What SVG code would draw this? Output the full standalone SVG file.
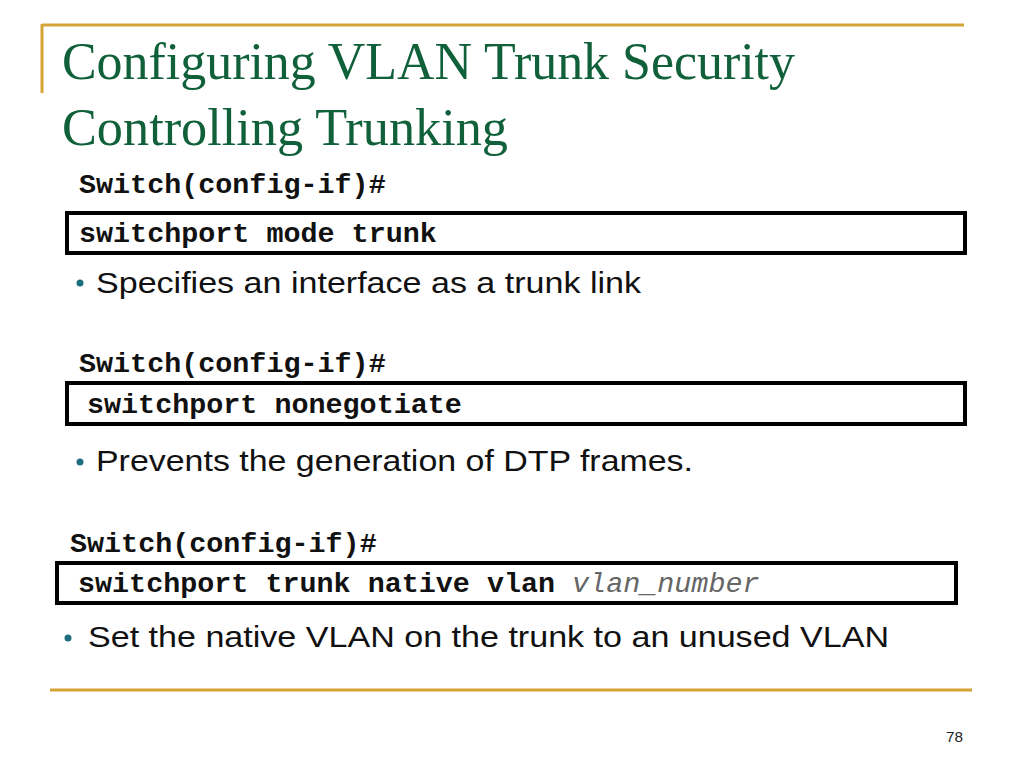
<svg xmlns="http://www.w3.org/2000/svg" width="1024" height="768" viewBox="0 0 1024 768">
<style>
.gold{stroke:#D4A536;stroke-width:3;fill:none}
.title{font-family:"Liberation Serif",serif;font-size:53px;fill:#10603A}
.prompt{font-family:"Liberation Mono",monospace;font-weight:bold;font-size:28.4px;fill:#111}
.cmd{font-family:"Liberation Mono",monospace;font-weight:bold;font-size:28.4px;fill:#111}
.arg{font-family:"Liberation Mono",monospace;font-style:italic;font-weight:normal;fill:#666}
.box{fill:#fff;stroke:#000;stroke-width:4}
.bul{font-family:"Liberation Sans",sans-serif;font-size:29px;fill:#111}
.dot{fill:#1F6E80}
</style>
<rect width="1024" height="768" fill="#fff"/>
<g id="frame">
<line class="gold" x1="42" y1="25" x2="964" y2="25"/>
<line class="gold" x1="42" y1="24" x2="42" y2="93"/>
<line class="gold" x1="50" y1="690" x2="972" y2="690"/>
</g>
<g id="title">
<text class="title" x="62" y="79" textLength="733" lengthAdjust="spacingAndGlyphs">Configuring VLAN Trunk Security</text>
<text class="title" x="62" y="145" textLength="446" lengthAdjust="spacingAndGlyphs">Controlling Trunking</text>
</g>
<g id="cmd1">
<text class="prompt" x="79" y="193">Switch(config-if)#</text>
<rect class="box" x="67" y="213" width="898" height="40"/>
<text class="cmd" x="79" y="242">switchport mode trunk</text>
</g>
<g id="bullet1">
<circle class="dot" cx="80" cy="283" r="3.5"/>
<text class="bul" x="96" y="293" textLength="545" lengthAdjust="spacingAndGlyphs">Specifies an interface as a trunk link</text>
</g>
<g id="cmd2">
<text class="prompt" x="79" y="372">Switch(config-if)#</text>
<rect class="box" x="67" y="383" width="898" height="41"/>
<text class="cmd" x="87" y="413">switchport nonegotiate</text>
</g>
<g id="bullet2">
<circle class="dot" cx="80" cy="462" r="3.5"/>
<text class="bul" x="96" y="471" textLength="597" lengthAdjust="spacingAndGlyphs">Prevents the generation of DTP frames.</text>
</g>
<g id="cmd3">
<text class="prompt" x="70" y="552">Switch(config-if)#</text>
<rect class="box" x="57" y="563" width="899" height="40"/>
<text class="cmd" x="78" y="592">switchport trunk native vlan <tspan class="arg">vlan_number</tspan></text>
</g>
<g id="bullet3">
<circle class="dot" cx="68" cy="638" r="3.5"/>
<text class="bul" x="88" y="647" textLength="801" lengthAdjust="spacingAndGlyphs">Set the native VLAN on the trunk to an unused VLAN</text>
</g>
<text x="963" y="742" text-anchor="end" font-family="Liberation Sans,sans-serif" font-size="15" fill="#222" textLength="17" lengthAdjust="spacingAndGlyphs">78</text>
</svg>
